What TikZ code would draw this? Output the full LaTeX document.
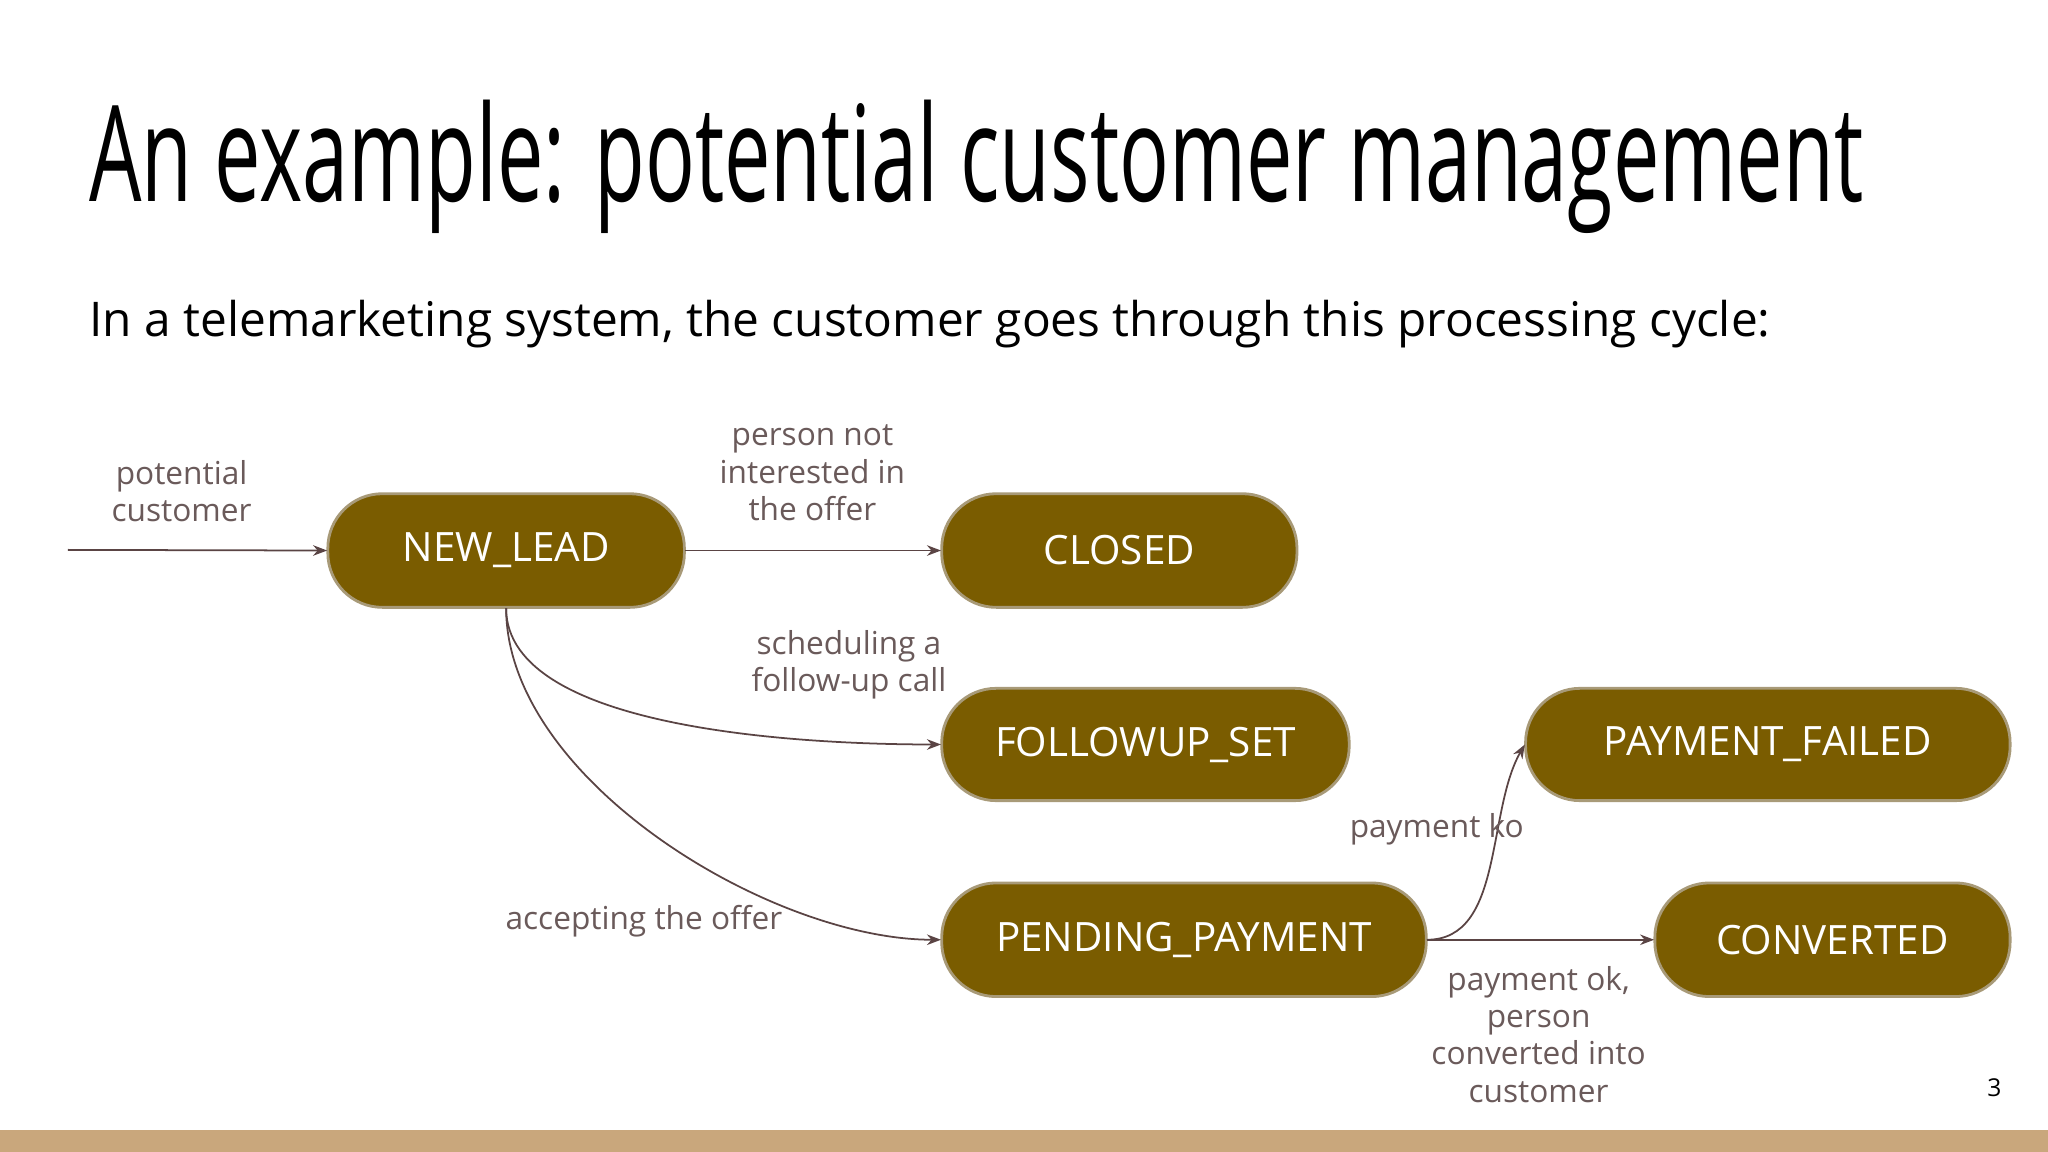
\documentclass[tikz,border=0pt]{standalone}
\usepackage{fontspec}
\setmainfont{Open Sans}
\usetikzlibrary{arrows.meta}
\definecolor{nodefill}{HTML}{7A5C00}
\definecolor{nodeedge}{HTML}{A89A78}
\definecolor{edge}{HTML}{5A4444}
\definecolor{lbl}{HTML}{6A5A5A}
\definecolor{bar}{HTML}{C9A77C}
\begin{document}
\begin{tikzpicture}[x=0.01306cm,y=-0.01306cm,
  st/.style={draw=nodeedge,line width=0.8pt,fill=nodefill,text=white,rounded corners=15.5pt,font=\fontsize{11.5}{13}\selectfont,inner sep=0pt},
  lb/.style={text=lbl,font=\fontsize{9}{10.6}\selectfont,align=center},
  ar/.style={draw=edge,line width=0.5pt,-{Stealth[length=4pt,width=3pt]}}]
\useasboundingbox (0,0) rectangle (1568,882);
\fill[white] (0,0) rectangle (1568,882);
\fill[bar] (0,865) rectangle (1568,882);
\node[anchor=west,inner sep=0] (title) at (68,128) {\scalebox{0.62}[1]{\fontsize{38}{40}\selectfont An example: potential customer management}};
\node[anchor=west,inner sep=0] (sub) at (68,248) {\fontsize{13.6}{16}\selectfont In a telemarketing system, the customer goes through this processing cycle:};
\node[inner sep=0] (pg) at (1527,833) {\fontsize{7}{8}\selectfont 3};
\node[st,minimum width=273\pgflinewidth,text width=0pt] at (-1000,-1000) {};
\newcommand{\mynode}[6]{\path[st] (#2,#3) rectangle (#4,#5); \node[text=white,font=\fontsize{11.5}{13}\selectfont,inner sep=0,minimum width={(#4-#2)*0.01306cm},minimum height={(#5-#3)*0.01306cm}] (#1) at ({(#2+#4)/2},{(#3+#5)/2}) {#6};}
\mynode{nl}{251}{378}{524}{465}{NEW\_LEAD}
\mynode{cl}{721}{378}{993}{465}{CLOSED}
\mynode{fs}{721}{527}{1033}{613}{FOLLOWUP\_SET}
\mynode{pp}{721}{676}{1092}{763}{PENDING\_PAYMENT}
\mynode{pf}{1168}{527}{1539}{613}{PAYMENT\_FAILED}
\mynode{cv}{1267}{676}{1539}{763}{CONVERTED}
\coordinate (in) at (52,421);
\draw[ar] (in) -- (nl.west);
\draw[ar] (nl.east) -- (cl.west);
\draw[ar] (nl.south) to[out=-90,in=180,looseness=0.7] (fs.west);
\draw[ar] (nl.south) to[out=-90,in=180,looseness=0.8] (pp.west);
\draw[ar] (pp.east) to[out=0,in=-120,looseness=0.9] (pf.west);
\draw[ar] (pp.east) -- (cv.west);
\node[lb] (l0) at (139,376) {potential\\customer};
\node[lb] (l1) at (622,362) {person not\\interested in\\the offer};
\node[lb] (l2) at (650,509) {scheduling a\\follow-up call};
\node[lb] (l3) at (493,705) {accepting the offer};
\node[lb] (l4) at (1100,635) {payment ko};
\node[lb] (l5) at (1178,792) {payment ok,\\person\\converted into\\customer};
\end{tikzpicture}
\end{document}
